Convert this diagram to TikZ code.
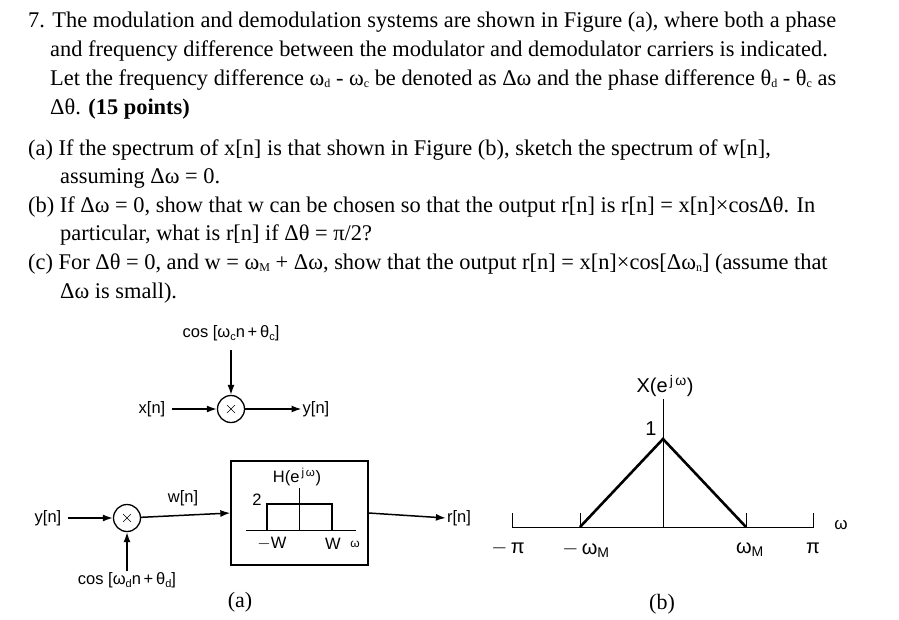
\documentclass[tikz,border=0pt]{standalone}
\usepackage{fontspec}
\setmainfont{Liberation Serif}
\newfontfamily\dsans{Liberation Sans}
\usetikzlibrary{arrows.meta}
\newcommand{\sbs}[1]{\raisebox{-0.25ex}{\fontsize{12}{12}\selectfont #1}}
\newcommand{\lsb}[1]{\raisebox{-0.35ex}{\fontsize{11}{11}\selectfont #1}}
\begin{document}
\begin{tikzpicture}[x=1pt,y=-1pt,
  txt/.style={anchor=base west,inner sep=0pt,font=\fontsize{22.4}{24}\selectfont},
  lab/.style={inner sep=1pt,font=\dsans\fontsize{16.5}{18}\selectfont},
  big/.style={inner sep=1pt,font=\dsans\fontsize{20}{22}\selectfont},
  sig/.style={-{Latex[length=10pt,width=7pt]},line width=1.5pt},
  mult/.style={circle,draw,line width=1.3pt,minimum size=27pt,inner sep=0pt}]
\useasboundingbox (0,0) rectangle (899,619);
% text
\node[txt] (t1) at (28,27) {7. The modulation and demodulation systems are shown in Figure (a), where both a phase};
\node[txt] (t2) at (50,56) {and frequency difference between the modulator and demodulator carriers is indicated.};
\node[txt] (t3) at (50,85) {Let the frequency difference ω\sbs{d} - ω\sbs{c} be denoted as Δω and the phase difference θ\sbs{d} - θ\sbs{c} as};
\node[txt] (t4) at (50,114) {Δθ. \textbf{(15 points)}};
\node[txt] (t5) at (28,155) {(a) If the spectrum of x[n] is that shown in Figure (b), sketch the spectrum of w[n],};
\node[txt] (t6) at (60,183) {assuming Δω = 0.};
\node[txt] (t7) at (28,212) {(b) If Δω = 0, show that w can be chosen so that the output r[n] is r[n] = x[n]×cosΔθ. In};
\node[txt] (t8) at (60,240) {particular, what is r[n] if Δθ = π/2?};
\node[txt] (t9) at (28,269) {(c) For Δθ = 0, and w = ω\sbs{M} + Δω, show that the output r[n] = x[n]×cos[Δω\sbs{n}] (assume that};
\node[txt] (t10) at (60,298) {Δω is small).};
% modulator
\node[mult] (m1) at (231,409) {};
\draw[line width=0.6pt] (m1.center)+(-4,-4) -- +(4,4) (m1.center)+(-4,4) -- +(4,-4);
\node[lab] (xn) at (152,409) {x[n]};
\node[lab] (yn1) at (316,409) {y[n]};
\node[lab] (c1) at (231,333) {cos [ω\lsb{c}n\,+\,θ\lsb{c}]};
\draw[sig] (172,409) -- (m1);
\draw[sig] (m1) -- (yn1.west);
\draw[sig] (231,350) -- (m1);
% demodulator
\node[mult] (m2) at (127,518) {};
\draw[line width=0.6pt] (m2.center)+(-4,-4) -- +(4,4) (m2.center)+(-4,4) -- +(4,-4);
\node[lab] (yn2) at (48,518) {y[n]};
\node[lab] (wn) at (183,498) {w[n]};
\node[lab] (c2) at (127,580) {cos [ω\lsb{d}n\,+\,θ\lsb{d}]};
\node[draw,line width=1.3pt,minimum width=137pt,minimum height=104pt,inner sep=0pt] (box) at (299.5,513) {};
\node[lab] (rn) at (459,518) {r[n]};
\draw[sig] (68,518) -- (m2);
\draw[sig] (m2) -- (box.west);
\draw[sig] (c2.north) -- (m2);
\draw[sig] (box.east) -- (rn.west);
% filter
\node[lab] (H) at (297,477) {H(e\textsuperscript{\,j\,ω})};
\draw[line width=0.8pt] (246,530) -- (356,530);
\draw[line width=0.8pt] (299,488) -- (299,530);
\draw[line width=1.8pt] (267,530) -- (267,504) -- (332,504) -- (332,530);
\node[lab] (two) at (257,500) {2};
\node[lab] (mw) at (272,544) {$-$W};
\node[lab] (pw) at (333,544) {W};
\node[lab,font=\dsans\fontsize{12}{12}\selectfont] (om) at (355,544) {ω};
\node[inner sep=0pt,font=\fontsize{22}{22}\selectfont] (fa) at (240,602) {(a)};
% spectrum
\draw[line width=0.9pt] (512,513) -- (512,527) -- (813,527) -- (813,513);
\draw[line width=0.9pt] (580,513) -- (580,527);
\draw[line width=0.9pt] (746,513) -- (746,527);
\draw[line width=0.9pt] (663,399) -- (663,527);
\draw[line width=2.6pt,line join=miter] (580,527) -- (663,439) -- (746,527);
\node[big] (X) at (665,386) {X(e\textsuperscript{\,j\,ω})};
\node[big] (one) at (651,429) {1};
\node[big] (mpi) at (508,548) {$-$\,π};
\node[big] (mwm) at (586,550) {$-$\,ω\textsubscript{M}};
\node[big] (wm) at (750,550) {ω\textsubscript{M}};
\node[big] (pi) at (813,548) {π};
\node[big,font=\dsans\fontsize{17}{18}\selectfont] (w) at (841,525) {ω};
\node[inner sep=0pt,font=\fontsize{22}{22}\selectfont] (fb) at (662,604) {(b)};
\end{tikzpicture}
\end{document}
